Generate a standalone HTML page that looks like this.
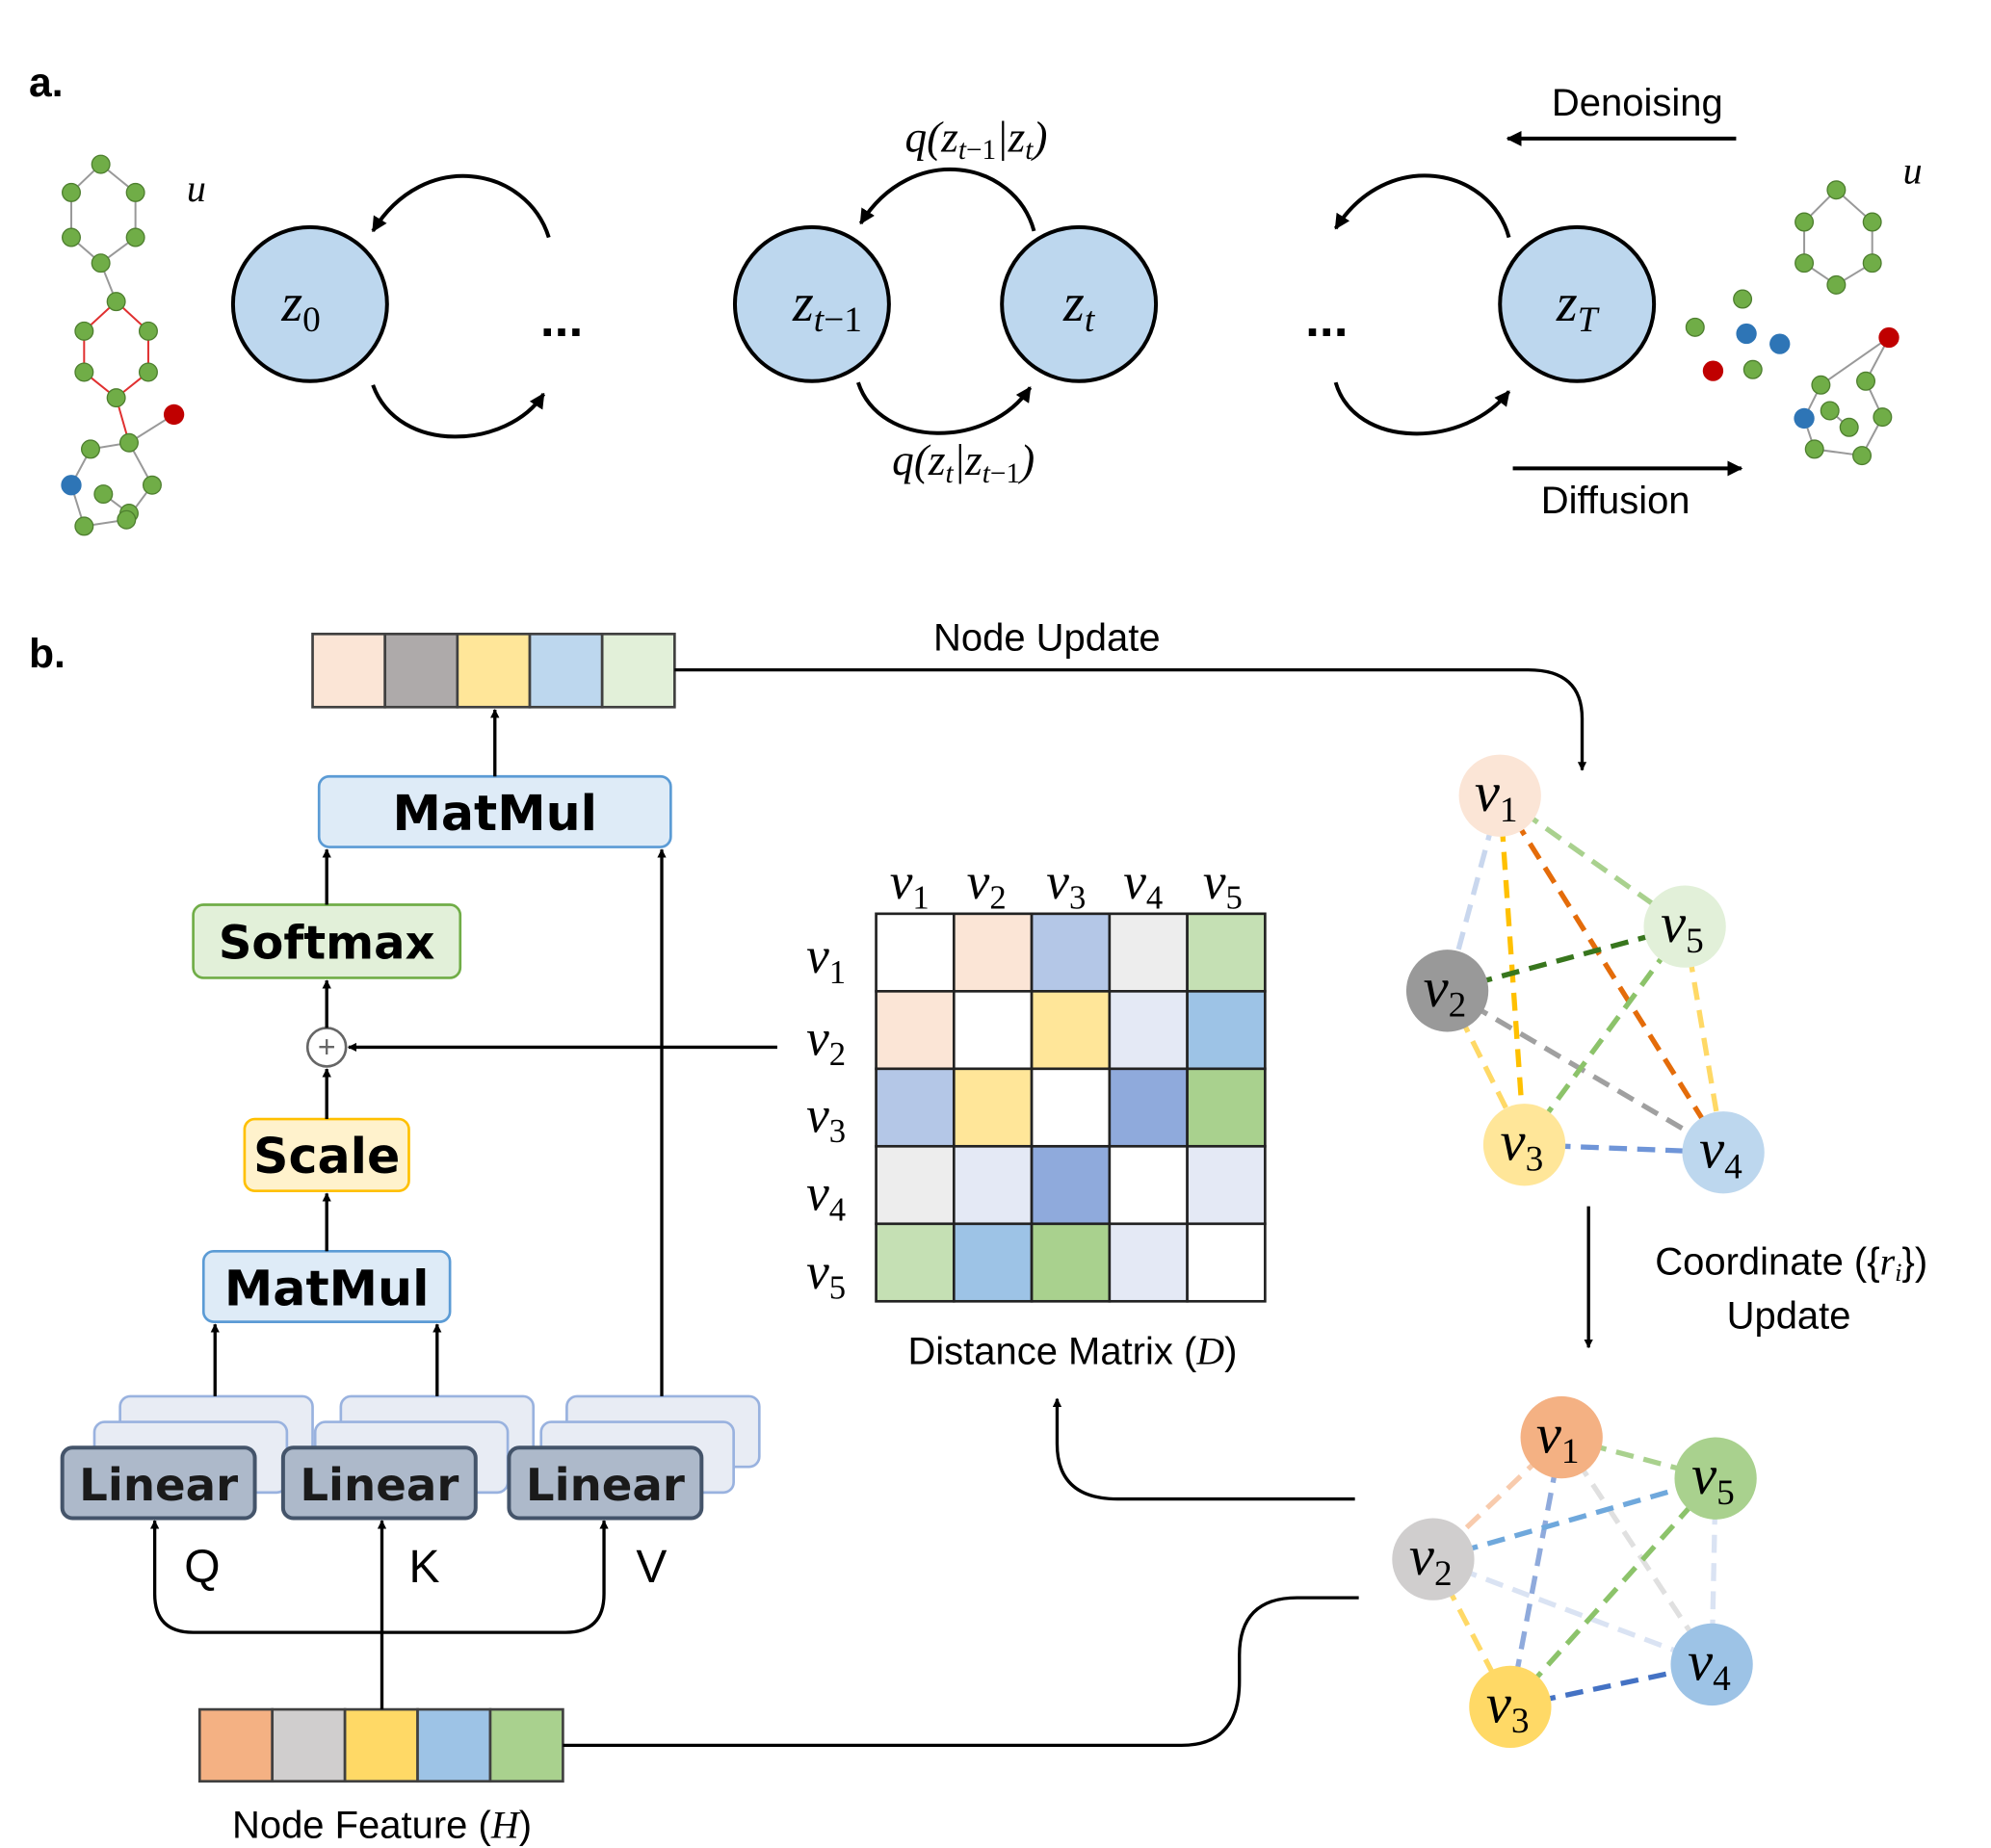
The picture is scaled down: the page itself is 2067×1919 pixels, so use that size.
<!DOCTYPE html>
<html><head><meta charset="utf-8"><style>
html,body{margin:0;padding:0;background:#fff}
svg{display:block}
.sans{font-family:"Liberation Sans",sans-serif}
.m{font-family:"Liberation Serif",serif;font-style:italic}
.bx{font-family:"DejaVu Sans","Liberation Sans",sans-serif;font-weight:bold}
</style></head><body>
<svg width="2067" height="1919" viewBox="0 0 1550 1440" xmlns="http://www.w3.org/2000/svg">
<defs>
<marker id="ar" viewBox="0 0 10 10" refX="9" refY="5" markerWidth="7" markerHeight="7" orient="auto-start-reverse" markerUnits="userSpaceOnUse"><path d="M0,0 L10,5 L0,10 z" fill="#000"/></marker>
<marker id="ar2" viewBox="0 0 10 10" refX="9" refY="5" markerWidth="12" markerHeight="12" orient="auto" markerUnits="userSpaceOnUse"><path d="M0,0 L10,5 L0,10 z" fill="#000"/></marker>
</defs>
<!-- a -->
<text x="22" y="75" class="sans" font-size="32" font-weight="bold">a.</text>
<g stroke="#000" stroke-width="3" fill="#bdd7ee">
<circle cx="241" cy="237" r="60"/><circle cx="632" cy="237" r="60"/><circle cx="840" cy="237" r="60"/><circle cx="1228" cy="237" r="60"/>
</g>
<g class="m" font-size="42" text-anchor="middle">
<text x="234" y="250">z<tspan font-size="28" dy="8" font-style="normal">0</tspan></text>
<text x="644" y="250">z<tspan font-size="28" dy="8">t</tspan><tspan font-size="28" font-style="normal">−1</tspan></text>
<text x="840" y="250">z<tspan font-size="28" dy="8">t</tspan></text>
<text x="1228" y="250">z<tspan font-size="28" dy="8">T</tspan></text>
</g>
<text x="437" y="262" font-size="40" text-anchor="middle" class="sans" font-weight="bold">...</text>
<text x="1033" y="262" font-size="40" text-anchor="middle" class="sans" font-weight="bold">...</text>
<g fill="none" stroke="#000" stroke-width="3">
<path d="M427,185 C410,130 330,115 290,180" marker-end="url(#ar2)"/>
<path d="M290,300 C310,355 395,350 423,307" marker-end="url(#ar2)"/>
<path d="M805,180 C790,125 710,110 670,174" marker-end="url(#ar2)"/>
<path d="M668,298 C685,350 770,350 802,302" marker-end="url(#ar2)"/>
<path d="M1175,185 C1160,130 1080,115 1040,178" marker-end="url(#ar2)"/>
<path d="M1040,298 C1055,350 1140,350 1175,305" marker-end="url(#ar2)"/>
<path d="M1352,108 L1174,108" marker-end="url(#ar2)"/>
<path d="M1178,365 L1356,365" marker-end="url(#ar2)"/>
</g>
<text x="760" y="118" class="m" font-size="34" text-anchor="middle">q(z<tspan font-size="22" dy="6">t</tspan><tspan font-size="22" font-style="normal">−1</tspan><tspan dy="-6">|z</tspan><tspan font-size="22" dy="6">t</tspan><tspan dy="-6">)</tspan></text>
<text x="750" y="370" class="m" font-size="34" text-anchor="middle">q(z<tspan font-size="22" dy="6">t</tspan><tspan dy="-6">|z</tspan><tspan font-size="22" dy="6">t</tspan><tspan font-size="22" font-style="normal">−1</tspan><tspan dy="-6">)</tspan></text>
<text x="1275" y="90" class="sans" font-size="30" text-anchor="middle">Denoising</text>
<text x="1258" y="400" class="sans" font-size="30" text-anchor="middle">Diffusion</text>
<text x="145" y="157" class="m" font-size="30">u</text>
<text x="1482" y="143" class="m" font-size="30">u</text>
<!-- left molecule -->
<g stroke="#999" stroke-width="1.5" fill="none">
<path d="M78,128 L55,150 L55,185 L78,205 L105,185 L105,150 Z M78,205 L90,235"/>
<path d="M100,345 L135,323 M100,345 L70,350 L55,378 L65,410 L98,405 L118,378 Z M80,385 L100,400"/>
</g>
<g stroke="#e03030" stroke-width="1.5" fill="none"><path d="M90,235 L65,258 L65,290 L90,310 L115,290 L115,258 Z M90,310 L100,345"/></g>
<g fill="#70ad47" stroke="#4e7f2f" stroke-width="1">
<circle cx="78" cy="128" r="7"/><circle cx="55" cy="150" r="7"/><circle cx="105" cy="150" r="7"/><circle cx="55" cy="185" r="7"/><circle cx="105" cy="185" r="7"/><circle cx="78" cy="205" r="7"/>
<circle cx="90" cy="235" r="7"/><circle cx="65" cy="258" r="7"/><circle cx="115" cy="258" r="7"/><circle cx="65" cy="290" r="7"/><circle cx="115" cy="290" r="7"/><circle cx="90" cy="310" r="7"/>
<circle cx="100" cy="345" r="7"/><circle cx="70" cy="350" r="7"/><circle cx="118" cy="378" r="7"/><circle cx="80" cy="385" r="7"/><circle cx="100" cy="400" r="7"/><circle cx="65" cy="410" r="7"/><circle cx="98" cy="405" r="7"/>
</g>
<circle cx="135" cy="323" r="8" fill="#c00000"/><circle cx="55" cy="378" r="8" fill="#2e75b6"/>
<!-- right molecule -->
<g stroke="#999" stroke-width="1.5" fill="none">
<path d="M1430,148 L1405,173 L1405,205 L1430,222 L1458,205 L1458,173 Z"/>
<path d="M1471,263 L1453,297 L1466,325 L1450,355 L1413,350 L1405,326 L1418,300 Z M1425,320 L1440,333"/>
</g>
<g fill="#70ad47" stroke="#4e7f2f" stroke-width="1">
<circle cx="1430" cy="148" r="7"/><circle cx="1405" cy="173" r="7"/><circle cx="1458" cy="173" r="7"/><circle cx="1405" cy="205" r="7"/><circle cx="1458" cy="205" r="7"/><circle cx="1430" cy="222" r="7"/>
<circle cx="1357" cy="233" r="7"/><circle cx="1320" cy="255" r="7"/><circle cx="1365" cy="288" r="7"/>
<circle cx="1453" cy="297" r="7"/><circle cx="1418" cy="300" r="7"/><circle cx="1425" cy="320" r="7"/><circle cx="1466" cy="325" r="7"/><circle cx="1440" cy="333" r="7"/><circle cx="1413" cy="350" r="7"/><circle cx="1450" cy="355" r="7"/>
</g>
<circle cx="1360" cy="260" r="8" fill="#2e75b6"/><circle cx="1386" cy="268" r="8" fill="#2e75b6"/><circle cx="1334" cy="289" r="8" fill="#c00000"/><circle cx="1471" cy="263" r="8" fill="#c00000"/><circle cx="1405" cy="326" r="8" fill="#2e75b6"/>

<!-- b -->
<text x="22" y="520" class="sans" font-size="32" font-weight="bold">b.</text>
<g stroke="#404040" stroke-width="2">
<rect x="243" y="494" width="56.4" height="57" fill="#fbe5d6"/><rect x="299.4" y="494" width="56.4" height="57" fill="#aeaaaa"/><rect x="355.8" y="494" width="56.4" height="57" fill="#ffe699"/><rect x="412.2" y="494" width="56.4" height="57" fill="#bdd7ee"/><rect x="468.6" y="494" width="56.4" height="57" fill="#e2f0d9"/>
<rect x="155" y="1332" width="56.6" height="56" fill="#f4b183"/><rect x="211.6" y="1332" width="56.6" height="56" fill="#d0cece"/><rect x="268.2" y="1332" width="56.6" height="56" fill="#ffd966"/><rect x="324.8" y="1332" width="56.6" height="56" fill="#9dc3e6"/><rect x="381.4" y="1332" width="56.6" height="56" fill="#a9d18e"/>
</g>
<g stroke-width="2">
<rect x="248" y="605" width="274" height="55" rx="8" fill="#deebf7" stroke="#5b9bd5"/>
<rect x="150" y="705" width="208" height="57" rx="8" fill="#e2f0d9" stroke="#70ad47"/>
<rect x="190" y="872" width="128" height="56" rx="8" fill="#fff2cc" stroke="#ffc000"/>
<rect x="158" y="975" width="192" height="55" rx="8" fill="#deebf7" stroke="#5b9bd5"/>
</g>
<circle cx="254" cy="816" r="15" fill="#fff" stroke="#666" stroke-width="2"/>
<text x="254" y="824" font-size="24" text-anchor="middle" fill="#666" class="sans">+</text>
<g class="bx" text-anchor="middle">
<text x="385" y="647" font-size="38">MatMul</text><text x="254" y="747" font-size="36">Softmax</text><text x="254" y="914" font-size="38">Scale</text><text x="254" y="1017" font-size="38">MatMul</text>
</g>
<!-- linear stacks -->
<g stroke="#8faadc" stroke-width="2" fill="#e6ebf3" opacity="0.9">
<rect x="93" y="1088" width="150" height="55" rx="8"/><rect x="73" y="1108" width="150" height="55" rx="8"/>
<rect x="265" y="1088" width="150" height="55" rx="8"/><rect x="245" y="1108" width="150" height="55" rx="8"/>
<rect x="441" y="1088" width="150" height="55" rx="8"/><rect x="421" y="1108" width="150" height="55" rx="8"/>
</g>
<g stroke="#44546a" stroke-width="3" fill="#adb9ca">
<rect x="48" y="1128" width="150" height="55" rx="8"/><rect x="220" y="1128" width="150" height="55" rx="8"/><rect x="396" y="1128" width="150" height="55" rx="8"/>
</g>
<g class="bx" font-size="35" text-anchor="middle" fill="#1a1a1a">
<text x="123" y="1169">Linear</text><text x="295" y="1169">Linear</text><text x="471" y="1169">Linear</text>
</g>
<g class="sans" font-size="36"><text x="143" y="1233">Q</text><text x="318" y="1233">K</text><text x="495" y="1233">V</text></g>
<text x="297" y="1432" class="sans" font-size="30" text-anchor="middle">Node Feature (<tspan class="m">H</tspan>)</text>
<g fill="none" stroke="#000" stroke-width="2.5" marker-end="url(#ar)">
<path d="M385,605 L385,553"/><path d="M254,705 L254,662"/><path d="M254,801 L254,764"/><path d="M254,872 L254,833"/><path d="M254,975 L254,930"/>
<path d="M167,1088 L167,1032"/><path d="M340,1088 L340,1032"/><path d="M515,1088 L515,662"/>
<path d="M605,816 L271,816"/>
<path d="M297,1332 L297,1185"/>
<path d="M300,1272 L150,1272 Q120,1272 120,1242 L120,1185"/>
<path d="M300,1272 L440,1272 Q470,1272 470,1242 L470,1185"/>
<path d="M525,522 L1190,522 Q1232,522 1232,560 L1232,600"/>
<path d="M1237,940 L1237,1050"/>
<path d="M1055,1168 L870,1168 Q823,1168 823,1125 L823,1090"/>
</g>
<path d="M438,1360 L920,1360 Q965,1360 965,1310 L965,1290 Q965,1245 1010,1245 L1058,1245" fill="none" stroke="#000" stroke-width="2.5"/>
<text x="815" y="507" class="sans" font-size="30" text-anchor="middle">Node Update</text>
<!-- matrix -->
<g stroke="#222" stroke-width="2">
<rect x="682" y="712" width="60.6" height="60.4" fill="#fff"/><rect x="742.6" y="712" width="60.6" height="60.4" fill="#fbe5d6"/><rect x="803.2" y="712" width="60.6" height="60.4" fill="#b4c7e7"/><rect x="863.8" y="712" width="60.6" height="60.4" fill="#ededed"/><rect x="924.4" y="712" width="60.6" height="60.4" fill="#c5e0b4"/>
<rect x="682" y="772.4" width="60.6" height="60.4" fill="#fbe5d6"/><rect x="742.6" y="772.4" width="60.6" height="60.4" fill="#fff"/><rect x="803.2" y="772.4" width="60.6" height="60.4" fill="#ffe699"/><rect x="863.8" y="772.4" width="60.6" height="60.4" fill="#e4e9f5"/><rect x="924.4" y="772.4" width="60.6" height="60.4" fill="#9dc3e6"/>
<rect x="682" y="832.8" width="60.6" height="60.4" fill="#b4c7e7"/><rect x="742.6" y="832.8" width="60.6" height="60.4" fill="#ffe699"/><rect x="803.2" y="832.8" width="60.6" height="60.4" fill="#fff"/><rect x="863.8" y="832.8" width="60.6" height="60.4" fill="#8faadc"/><rect x="924.4" y="832.8" width="60.6" height="60.4" fill="#a9d18e"/>
<rect x="682" y="893.2" width="60.6" height="60.4" fill="#ededed"/><rect x="742.6" y="893.2" width="60.6" height="60.4" fill="#e4e9f5"/><rect x="803.2" y="893.2" width="60.6" height="60.4" fill="#8faadc"/><rect x="863.8" y="893.2" width="60.6" height="60.4" fill="#fff"/><rect x="924.4" y="893.2" width="60.6" height="60.4" fill="#e4e9f5"/>
<rect x="682" y="953.6" width="60.6" height="60.4" fill="#c5e0b4"/><rect x="742.6" y="953.6" width="60.6" height="60.4" fill="#9dc3e6"/><rect x="803.2" y="953.6" width="60.6" height="60.4" fill="#a9d18e"/><rect x="863.8" y="953.6" width="60.6" height="60.4" fill="#e4e9f5"/><rect x="924.4" y="953.6" width="60.6" height="60.4" fill="#fff"/>
</g>
<g class="m" font-size="40" text-anchor="middle">
<text x="708" y="700">v<tspan font-size="26" dy="8" font-style="normal">1</tspan></text>
<text x="768" y="700">v<tspan font-size="26" dy="8" font-style="normal">2</tspan></text>
<text x="830" y="700">v<tspan font-size="26" dy="8" font-style="normal">3</tspan></text>
<text x="890" y="700">v<tspan font-size="26" dy="8" font-style="normal">4</tspan></text>
<text x="952" y="700">v<tspan font-size="26" dy="8" font-style="normal">5</tspan></text>
<text x="643" y="758">v<tspan font-size="26" dy="8" font-style="normal">1</tspan></text>
<text x="643" y="822">v<tspan font-size="26" dy="8" font-style="normal">2</tspan></text>
<text x="643" y="882">v<tspan font-size="26" dy="8" font-style="normal">3</tspan></text>
<text x="643" y="943">v<tspan font-size="26" dy="8" font-style="normal">4</tspan></text>
<text x="643" y="1004">v<tspan font-size="26" dy="8" font-style="normal">5</tspan></text>
</g>
<text x="835" y="1063" class="sans" font-size="30" text-anchor="middle">Distance Matrix (<tspan class="m">D</tspan>)</text>
<text x="1395" y="993" class="sans" font-size="30" text-anchor="middle">Coordinate ({<tspan class="m">r<tspan font-size="20" dy="5">i</tspan></tspan><tspan dy="-5">})</tspan></text>
<text x="1393" y="1035" class="sans" font-size="30" text-anchor="middle">Update</text>
<!-- graph 1 -->
<g stroke-width="4" stroke-dasharray="14,8" fill="none">
<line x1="1168" y1="620" x2="1127" y2="772" stroke="#c9d7ee"/>
<line x1="1168" y1="620" x2="1187" y2="892" stroke="#ffc000"/>
<line x1="1168" y1="620" x2="1342" y2="898" stroke="#e46c0a"/>
<line x1="1168" y1="620" x2="1312" y2="722" stroke="#a9d18e"/>
<line x1="1127" y1="772" x2="1312" y2="722" stroke="#38761d"/>
<line x1="1127" y1="772" x2="1187" y2="892" stroke="#ffd966"/>
<line x1="1127" y1="772" x2="1342" y2="898" stroke="#a0a0a0"/>
<line x1="1187" y1="892" x2="1312" y2="722" stroke="#8cc36a"/>
<line x1="1312" y1="722" x2="1342" y2="898" stroke="#ffd966"/>
<line x1="1187" y1="892" x2="1342" y2="898" stroke="#6f95d8"/>
</g>
<circle cx="1168" cy="620" r="32" fill="#fbe5d6"/><circle cx="1312" cy="722" r="32" fill="#e2f0d9"/><circle cx="1127" cy="772" r="32" fill="#999"/><circle cx="1187" cy="892" r="32" fill="#ffe699"/><circle cx="1342" cy="898" r="32" fill="#bdd7ee"/>
<!-- graph 2 -->
<g stroke-width="4" stroke-dasharray="14,8" fill="none">
<line x1="1216" y1="1120" x2="1336" y2="1152" stroke="#a9d18e"/>
<line x1="1216" y1="1120" x2="1116" y2="1215" stroke="#f8cbad"/>
<line x1="1216" y1="1120" x2="1176" y2="1330" stroke="#8faadc"/>
<line x1="1216" y1="1120" x2="1333" y2="1297" stroke="#e0e0e0"/>
<line x1="1116" y1="1215" x2="1336" y2="1152" stroke="#6fa8dc"/>
<line x1="1116" y1="1215" x2="1176" y2="1330" stroke="#ffd966"/>
<line x1="1116" y1="1215" x2="1333" y2="1297" stroke="#dae3f3"/>
<line x1="1176" y1="1330" x2="1336" y2="1152" stroke="#8cc36a"/>
<line x1="1336" y1="1152" x2="1333" y2="1297" stroke="#dae3f3"/>
<line x1="1176" y1="1330" x2="1333" y2="1297" stroke="#4472c4"/>
</g>
<circle cx="1216" cy="1120" r="32" fill="#f4b183"/><circle cx="1336" cy="1152" r="32" fill="#a9d18e"/><circle cx="1116" cy="1215" r="32" fill="#d0cece"/><circle cx="1333" cy="1297" r="32" fill="#9dc3e6"/><circle cx="1176" cy="1330" r="32" fill="#ffd966"/>
<g class="m" font-size="44" text-anchor="middle">
<text x="1165" y="632">v<tspan font-size="28" dy="8" font-style="normal">1</tspan></text>
<text x="1310" y="734">v<tspan font-size="28" dy="8" font-style="normal">5</tspan></text>
<text x="1125" y="784">v<tspan font-size="28" dy="8" font-style="normal">2</tspan></text>
<text x="1185" y="904">v<tspan font-size="28" dy="8" font-style="normal">3</tspan></text>
<text x="1340" y="910">v<tspan font-size="28" dy="8" font-style="normal">4</tspan></text>
<text x="1213" y="1132">v<tspan font-size="28" dy="8" font-style="normal">1</tspan></text>
<text x="1334" y="1164">v<tspan font-size="28" dy="8" font-style="normal">5</tspan></text>
<text x="1114" y="1227">v<tspan font-size="28" dy="8" font-style="normal">2</tspan></text>
<text x="1331" y="1309">v<tspan font-size="28" dy="8" font-style="normal">4</tspan></text>
<text x="1174" y="1342">v<tspan font-size="28" dy="8" font-style="normal">3</tspan></text>
</g>
</svg>
</body></html>
